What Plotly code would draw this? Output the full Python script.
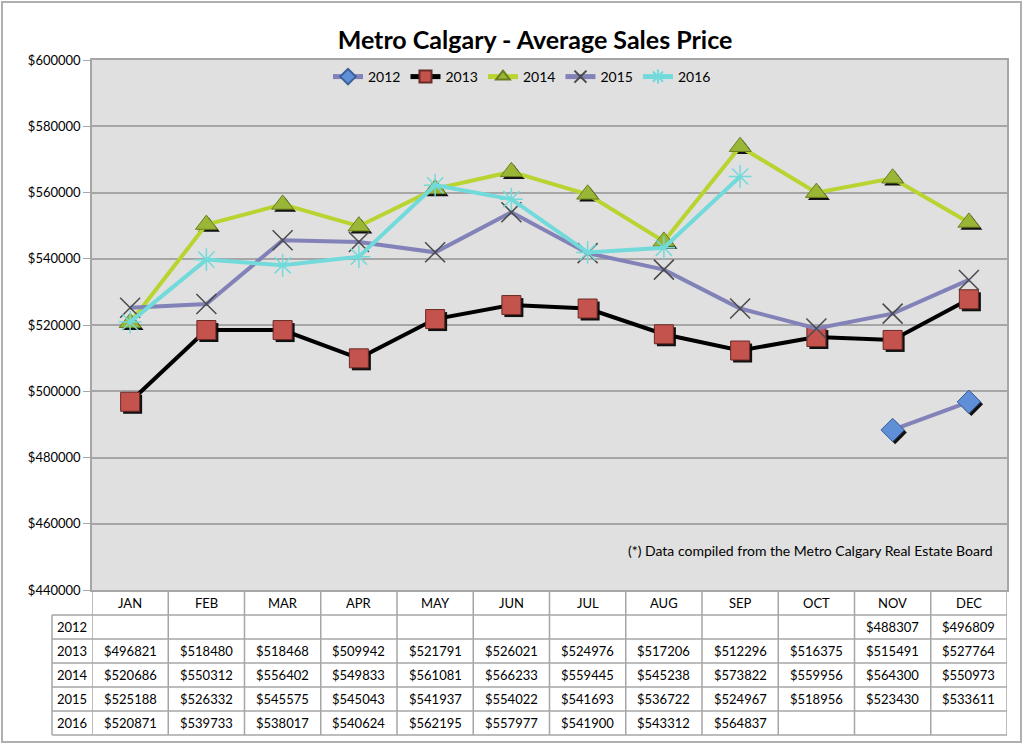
import plotly.graph_objects as go

months = ["JAN", "FEB", "MAR", "APR", "MAY", "JUN", "JUL", "AUG", "SEP", "OCT", "NOV", "DEC"]
years = ["2012", "2013", "2014", "2015", "2016"]
p2012 = [None, None, None, None, None, None, None, None, None, None, 488307, 496809]
p2013 = [496821, 518480, 518468, 509942, 521791, 526021, 524976, 517206, 512296, 516375, 515491, 527764]
p2014 = [520686, 550312, 556402, 549833, 561081, 566233, 559445, 545238, 573822, 559956, 564300, 550973]
p2015 = [525188, 526332, 545575, 545043, 541937, 554022, 541693, 536722, 524967, 518956, 523430, 533611]
p2016 = [520871, 539733, 538017, 540624, 562195, 557977, 541900, 543312, 564837, None, None, None]
series = [p2012, p2013, p2014, p2015, p2016]
y_ticks = [440000, 460000, 480000, 500000, 520000, 540000, 560000, 580000, 600000]

FONT = "Lato"
W, H = 1024, 744
L, R, T, B = 92, 17, 60, 154
PW, PH = W - L - R, H - T - B
Y0, Y1 = 440000, 600000
X0, X1 = -0.5, 11.5

def px(x):
    return (x - L) / PW

def py(y):
    return (H - B - y) / PH

styles = [
    dict(line=dict(color="#8282b8", width=4), marker=dict(symbol="diamond", size=18, color="#5f8fd6", line=dict(color="#3a5f9a", width=1))),
    dict(line=dict(color="#000000", width=4), marker=dict(symbol="square", size=19, color="#c4534d", line=dict(color="#6a2a26", width=1))),
    dict(line=dict(color="#b8d430", width=4), marker=dict(symbol="triangle-up", size=19, color="#9ab636", line=dict(color="#6b7f20", width=1))),
    dict(line=dict(color="#8282b8", width=4), marker=dict(symbol="x-thin", size=20, color="#4a4a4a", line=dict(color="#4a4a4a", width=1.5))),
    dict(line=dict(color="#72dada", width=4), marker=dict(symbol="asterisk", size=19, color="#72dada", line=dict(color="#72dada", width=1.5))),
]

fig = go.Figure()
# shadow layer: drawn on the hidden base axes whose ranges are shifted by a few pixels
shift = 2.5
dx = shift * (X1 - X0) / PW
dy = shift * (Y1 - Y0) / PH
for vals, st in zip(series[:3], styles[:3]):
    fig.add_trace(go.Scatter(x=months, y=vals, mode="markers", xaxis="x", yaxis="y", showlegend=False,
                             hoverinfo="skip",
                             marker=dict(symbol=st["marker"]["symbol"], size=st["marker"]["size"], color="#111111")))
# main series on the visible overlay axes
for name, vals, st in zip(years, series, styles):
    fig.add_trace(go.Scatter(x=months, y=vals, name=name, mode="lines+markers", xaxis="x2", yaxis="y2",
                             line=st["line"], marker=st["marker"], connectgaps=False))

shapes = []
annotations = []
grid = "#a6a6a6"
shapes.append(dict(type="rect", xref="paper", yref="paper", x0=px(2), x1=px(1021), y0=py(742), y1=py(2),
                   line=dict(color="#b0b0b0", width=2), layer="below"))
header_top, header_bot = 590, 615
row_h = 24
table_bot = header_bot + row_h * len(years)
for yy in [header_bot + row_h * i for i in range(len(years) + 1)]:
    shapes.append(dict(type="line", xref="paper", yref="paper", x0=px(52), x1=px(W - R), y0=py(yy), y1=py(yy),
                       line=dict(color=grid, width=1.5)))
shapes.append(dict(type="line", xref="paper", yref="paper", x0=px(52), x1=px(52), y0=py(header_bot), y1=py(table_bot),
                   line=dict(color=grid, width=1.5)))
for i in range(len(months) + 1):
    shapes.append(dict(type="line", xref="x2", yref="paper", x0=i - 0.5, x1=i - 0.5, y0=py(header_top), y1=py(table_bot),
                       line=dict(color=grid, width=1.5)))
for m in months:
    annotations.append(dict(x=m, y=py((header_top + header_bot) / 2), xref="x2", yref="paper", text=m,
                            showarrow=False, font=dict(family=FONT, size=13, color="#000"),
                            xanchor="center", yanchor="middle"))
for r, (yr, vals) in enumerate(zip(years, series)):
    yc = py(header_bot + row_h * r + row_h / 2)
    annotations.append(dict(x=px(72), y=yc, xref="paper", yref="paper", text=yr, showarrow=False,
                            font=dict(family=FONT, size=13, color="#000"), xanchor="center", yanchor="middle"))
    for m, v in zip(months, vals):
        if v is None:
            continue
        annotations.append(dict(x=m, y=yc, xref="x2", yref="paper", text=f"${v}", showarrow=False,
                                font=dict(family=FONT, size=13, color="#000"), xanchor="center", yanchor="middle"))
annotations.append(dict(x=px(995), y=py(550), xref="paper", yref="paper", xanchor="right", yanchor="middle",
                        text="(*) Data compiled from the Metro Calgary Real Estate Board", showarrow=False,
                        font=dict(family=FONT, size=14, color="#000")))

fig.update_layout(
    width=W, height=H,
    margin=dict(l=L, r=R, t=T, b=B, pad=0),
    paper_bgcolor="white", plot_bgcolor="#e0e0e0",
    title=dict(text="<b>Metro Calgary - Average Sales Price</b>", xref="container", x=535 / W, xanchor="center",
               yref="container", y=1 - 40 / H, yanchor="middle",
               font=dict(family=FONT, size=25, color="#000")),
    font=dict(family=FONT, size=14, color="#000"),
    legend=dict(orientation="h", x=px(522), xanchor="center", y=py(77), yanchor="middle",
                bgcolor="rgba(0,0,0,0)", font=dict(family=FONT, size=14), itemwidth=30, tracegroupgap=0,
                itemsizing="constant"),
    showlegend=True,
    shapes=shapes, annotations=annotations,
    xaxis=dict(range=[X0 - dx, X1 - dx], type="category", categoryarray=months, showticklabels=False,
               showgrid=False, zeroline=False, showline=False, ticks=""),
    yaxis=dict(range=[Y0 + dy, Y1 + dy], showticklabels=False, showgrid=False, zeroline=False,
               showline=False, ticks=""),
    xaxis2=dict(overlaying="x", anchor="y2", range=[X0, X1], type="category", categoryarray=months,
                showticklabels=False, showgrid=False, zeroline=False, showline=True, linecolor=grid,
                linewidth=1.5, mirror=True, ticks=""),
    yaxis2=dict(overlaying="y", anchor="x2", side="left", range=[Y0, Y1], tickvals=y_ticks,
                ticktext=[f"${v}" for v in y_ticks], showgrid=True, gridcolor=grid, gridwidth=1.5,
                zeroline=False, showline=True, linecolor=grid, linewidth=1.5, mirror=True, ticks="outside",
                ticklen=7, tickcolor=grid, tickfont=dict(family=FONT, size=13, color="#000")),
)

fig.write_html("out.html")
